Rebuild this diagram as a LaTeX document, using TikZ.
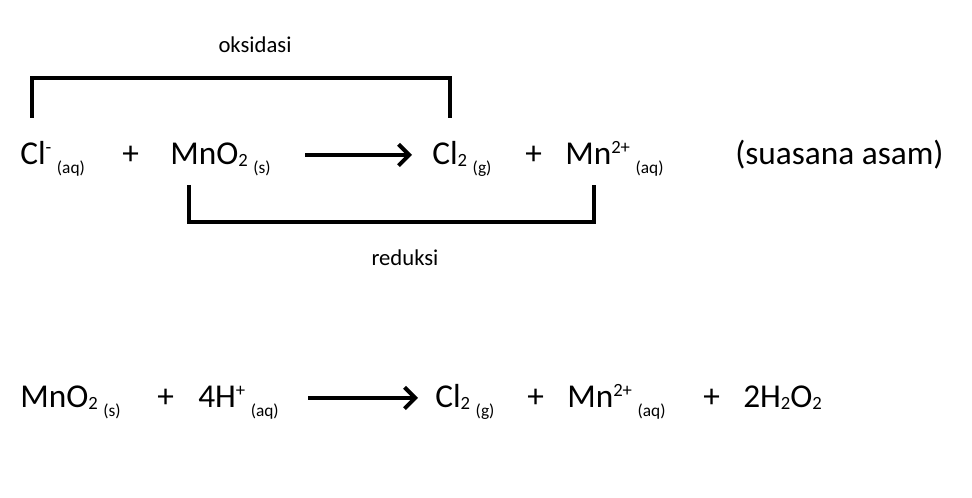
\documentclass[tikz,border=0pt]{standalone}
\usepackage{fontspec}
\setmainfont{Carlito}
\usetikzlibrary{arrows.meta}
\newcommand{\lo}[1]{\raisebox{-0.25em}{\fontsize{13}{14}\selectfont #1}}
\newcommand{\dg}[1]{\raisebox{-0.05em}{\fontsize{14}{14}\selectfont #1}}
\newcommand{\hi}[1]{\raisebox{0.35em}{\fontsize{14}{14}\selectfont #1}}
\tikzset{
  term/.style={anchor=base west, inner sep=0pt, font=\fontsize{25}{28}\selectfont},
  lbl/.style={inner sep=0pt, font=\fontsize{17}{20}\selectfont},
  bar/.style={line width=3pt},
  react/.style={line width=3pt, -{Straight Barb[length=8pt,width=16pt,line width=3pt]}}
}
\begin{document}
\begin{tikzpicture}[x=0.75pt,y=-0.75pt]
  \useasboundingbox (0,0) rectangle (972,498);
  % first equation
  \node[term] (cl) at (20,165) {Cl\hi{-}\,\lo{(aq)}};
  \node[term] at (122,165) {+};
  \node[term] (mno) at (170,165) {MnO\dg{2}\,\lo{(s)}};
  \node[term] (cltwo) at (432,165) {Cl\dg{2}\,\lo{(g)}};
  \node[term] at (525,165) {+};
  \node[term] (mn) at (565,165) {Mn\hi{2+}\,\lo{(aq)}};
  \node[term] (asam) at (735,165) {(suasana asam)};
  \coordinate (a1) at (305,155);
  \coordinate (a2) at (412,155);
  \draw[react] (a1) -- (a2);
  % brackets
  \coordinate (o1) at (32,118); \coordinate (o2) at (450,118);
  \draw[bar] (o1) -- ++(0,-40) -| (o2);
  \node[lbl] (oks) at (255,45) {oksidasi};
  \coordinate (r1) at (189,185); \coordinate (r2) at (594,185);
  \draw[bar] (r1) -- ++(0,37) -| (r2);
  \node[lbl] (red) at (405,258) {reduksi};
  % second equation
  \node[term] (mnob) at (20,408) {MnO\dg{2}\,\lo{(s)}};
  \node[term] at (157,408) {+};
  \node[term] (h) at (198,408) {4H\hi{+}\,\lo{(aq)}};
  \node[term] (cltwob) at (435,408) {Cl\dg{2}\,\lo{(g)}};
  \node[term] at (527,408) {+};
  \node[term] (mnb) at (567,408) {Mn\hi{2+}\,\lo{(aq)}};
  \node[term] at (703,408) {+};
  \node[term] (hoo) at (743,408) {2H\dg{2}O\dg{2}};
  \coordinate (b1) at (308,398);
  \coordinate (b2) at (418,398);
  \draw[react] (b1) -- (b2);
\end{tikzpicture}
\end{document}
